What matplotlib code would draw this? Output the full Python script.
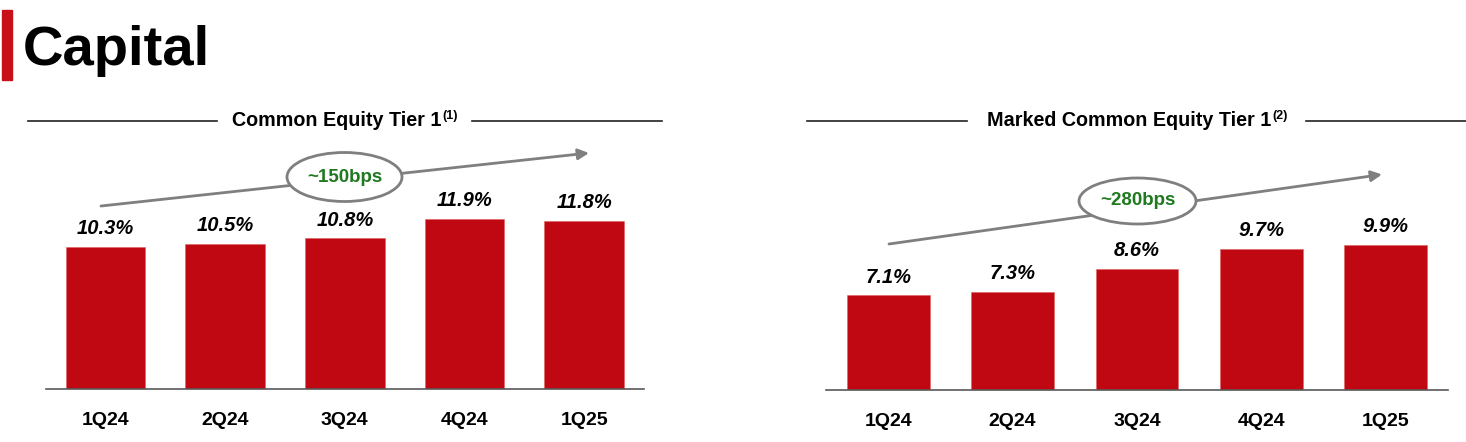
import matplotlib
matplotlib.use("Agg")
import matplotlib.pyplot as plt
import matplotlib.patches as patches
from matplotlib.lines import Line2D

plt.rcParams['font.family'] = ['Liberation Sans', 'DejaVu Sans']

# dados
quarters = ['1Q24', '2Q24', '3Q24', '4Q24', '1Q25']
cet1 = [10.3, 10.5, 10.8, 11.9, 11.8]
marked_cet1 = [7.1, 7.3, 8.6, 9.7, 9.9]
cet1_delta = '~150bps'
marked_delta = '~280bps'

RED = '#C00812'
GRAY = '#7f7f7f'
GREEN = '#1f7a1f'

W, H = 1466, 442
fig = plt.figure(figsize=(W / 100, H / 100), dpi=100)


def fx(px):
    return px / W


def fy(py):
    return 1 - py / H


# titulo
fig.patches.append(patches.Rectangle((fx(2), fy(80)), fx(10), 70 / H,
                                     transform=fig.transFigure, color='#C8101A'))
fig.text(fx(23), fy(65), 'Capital', fontsize=40.5, fontweight='bold',
         va='baseline', ha='left')


def header(text, sup, x_right, lines):
    fig.text(fx(x_right), fy(121), text, fontsize=14.2, fontweight='bold',
             ha='right', va='center')
    fig.text(fx(x_right + 1), fy(116), sup, fontsize=9, fontweight='bold',
             ha='left', va='center')
    for x0, x1 in lines:
        fig.add_artist(Line2D([fx(x0), fx(x1)], [fy(121), fy(121)],
                              transform=fig.transFigure, color='#222222', lw=1.2))


header('Common Equity Tier 1', '(1)', 441, [(28, 217), (472, 662)])
header('Marked Common Equity Tier 1', '(2)', 1271, [(807, 967), (1306, 1466)])


def bars(x0, x1, base, ymin, ppu, values):
    top = 120
    ax = fig.add_axes([fx(x0), fy(base), fx(x1) - fx(x0), (base - top) / H])
    ax.bar(range(len(values)), values, width=0.665, color=RED,
           edgecolor='#e06060', linewidth=0.4)
    ax.set_xlim(-0.5, len(values) - 0.5)
    ax.set_ylim(ymin, ymin + (base - top) / ppu)
    for s in ['top', 'right', 'left']:
        ax.spines[s].set_visible(False)
    ax.spines['bottom'].set_color('#595959')
    ax.spines['bottom'].set_linewidth(1.2)
    ax.set_xticks([])
    ax.set_yticks([])
    ax.patch.set_alpha(0)
    for i, v in enumerate(values):
        ax.annotate(f'{v:.1f}%', xy=(i, v), xytext=(0, 13.3),
                    textcoords='offset points', ha='center', va='center',
                    fontsize=14.5, fontweight='bold', fontstyle='italic')
        ax.annotate(quarters[i], xy=(i, 0), xycoords=('data', 'axes fraction'),
                    xytext=(0, -22.5), textcoords='offset points',
                    ha='center', va='center', fontsize=14, fontweight='bold')
    return ax


bars(45.6, 644, 389, 2.1, 17.3, cet1)
bars(826, 1448, 390, 1.85, 18.0, marked_cet1)


def trend(start, end, centre, w, h, label):
    fig.add_artist(patches.FancyArrowPatch(
        (fx(start[0]), fy(start[1])), (fx(end[0]), fy(end[1])),
        transform=fig.transFigure, arrowstyle='-|>', mutation_scale=16,
        color=GRAY, lw=2.0, shrinkA=0, shrinkB=0, zorder=3))
    fig.add_artist(patches.Ellipse((fx(centre[0]), fy(centre[1])), fx(w), h / H,
                                   transform=fig.transFigure, facecolor='white',
                                   edgecolor=GRAY, lw=2.0, zorder=4))
    fig.text(fx(centre[0]), fy(centre[1]), label, fontsize=13.5, fontweight='bold',
             color=GREEN, ha='center', va='center', zorder=5)


trend((101, 206), (589, 153), (344.5, 177), 115, 49, cet1_delta)
trend((889, 244), (1382, 174.5), (1137.5, 201), 117, 46, marked_delta)

fig.savefig('out.png', dpi=100)
